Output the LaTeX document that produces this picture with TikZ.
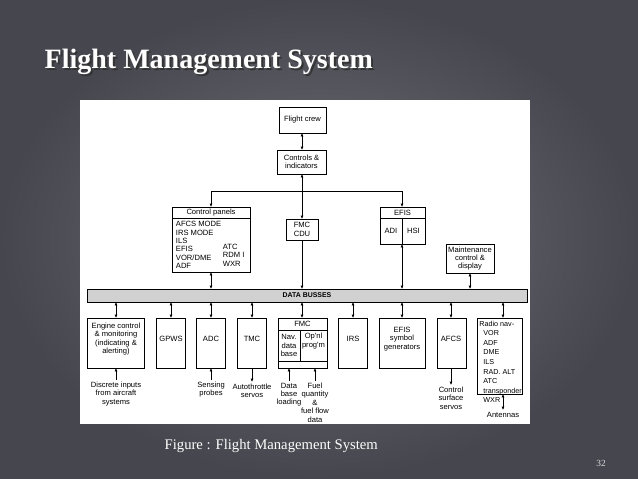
\documentclass[tikz,border=0pt]{standalone}
\usepackage{fontspec}
\setmainfont{Liberation Serif}
\newfontfamily\dsans{Liberation Sans}
\usetikzlibrary{arrows.meta,shadings}
\definecolor{bgin}{RGB}{112,112,122}
\definecolor{bgout}{RGB}{70,70,78}
\begin{document}
\begin{tikzpicture}[x=0.75pt,y=-0.75pt,
  bx/.style={draw,line width=0.6pt,fill=white},
  t/.style={font=\dsans\fontsize{5.7}{6.3}\selectfont,align=center,inner sep=0.5pt},
  ln/.style={line width=0.6pt},
  dbl/.style={line width=0.6pt,{Latex[length=2.5pt,width=2.2pt]}-{Latex[length=2.5pt,width=2.2pt]}},
  one/.style={line width=0.6pt,-{Latex[length=2.5pt,width=2.2pt]}}]
\useasboundingbox (0,0) rectangle (638,478);
\shade[inner color=bgin,outer color=bgout] (0,0) rectangle (638,478);
% title
\node[font=\bfseries\fontsize{21}{24}\selectfont,text=black!80,anchor=west] at (42,64) {Flight Management System};
\node[font=\bfseries\fontsize{21}{24}\selectfont,text=white,anchor=west] (title) at (40,62) {Flight Management System};
% panel
\fill[white] (80,100) rectangle (530,424);
% top boxes
\draw[bx] (279,107) rectangle (326,133); \node[t] (crew) at (302.5,120) {Flight crew};
\draw[bx] (277,150) rectangle (326,174); \node[t] (ci) at (301.5,162) {Controls \&\\indicators};
\coordinate (crewb) at (302,133); \coordinate (cit) at (302,150);
\draw[dbl] (crewb) -- (cit);
% control panels
\draw[bx] (172,207) rectangle (250,272); \draw[ln] (172,218)--(250,218);
\node[t] at (211,212.5) {Control panels};
\node[t,anchor=north west,align=left] at (175,220.5) {AFCS MODE\\IRS MODE\\ILS\\EFIS\\VOR/DME\\ADF};
\node[t,anchor=north west,align=left] at (222,243) {ATC\\RDM I\\WXR};
% FMC CDU
\draw[bx] (286,219) rectangle (318,240); \node[t] (cdu) at (302,229.5) {FMC\\CDU};
% EFIS
\draw[bx] (380,207) rectangle (425,244); \draw[ln] (380,218)--(425,218); \draw[ln] (402,218)--(402,244);
\node[t] at (402.5,212.5) {EFIS}; \node[t] at (391,231) {ADI}; \node[t] at (413.5,231) {HSI};
% maintenance
\draw[bx] (446,244) rectangle (494,273); \node[t] at (470,258.5) {Maintenance\\control \&\\display};
% connections top
\coordinate (cib) at (302,174);
\coordinate (j1) at (211,191); \coordinate (j2) at (402,191);
\draw[ln] (j1)--(j2);
\draw[one] (j1)--(211,207);
\draw[one] (j2)--(402,207);
\draw[dbl] (cib)--(302,219);
% bus
\draw[line width=0.6pt,fill=black!18] (87,289) rectangle (527,302);
\node[t,font=\dsans\bfseries\fontsize{5.2}{6}\selectfont] (bus) at (307,295.5) {DATA BUSSES};
\draw[dbl] (211,272)--(211,289);
\draw[one] (302,240)--(302,289);
\draw[dbl] (402,244)--(402,289);
\draw[dbl] (470,273)--(470,289);
% bottom boxes
\foreach \a/\b/\m/\txt in {87/144/116/{Engine control\\\& monitoring\\(indicating \&\\alerting)},156/185/171/GPWS,196/225/211/ADC,237/266/252/TMC,338/367/353/IRS,379/425/402/{EFIS\\symbol\\generators},437/466/451/AFCS}{
  \draw[bx] (\a,318) rectangle (\b,368);
  \node[t] at (\m,339) {\txt};
  \draw[dbl] (\m,302)--(\m,318);
}
% FMC bottom
\draw[bx] (278,318) rectangle (327,368); \draw[ln] (278,330)--(327,330); \draw[ln] (278,361)--(327,361); \draw[ln] (300,330)--(300,361);
\node[t] at (302.5,324) {FMC};
\node[t] at (289,345.5) {Nav.\\data\\base};
\node[t] at (313.5,341) {Op'nl\\prog'm};
\draw[dbl] (302,302)--(302,318);
% radio
\draw[bx] (477,318) rectangle (522,394);
\node[t,anchor=north west,align=left,font=\dsans\fontsize{5.4}{7.2}\selectfont] at (478.5,320) {Radio nav-\\\ \ VOR\\\ \ ADF\\\ \ DME\\\ \ ILS\\\ \ RAD. ALT\\\ \ ATC\\\ \ transponder\\\ \ WXR};
\draw[dbl] (503,302)--(503,318);
% below
\draw[one] (116,380)--(116,368); \node[t,anchor=north] at (116,381) {Discrete inputs\\from aircraft\\systems};
\draw[one] (211,380)--(211,368); \node[t,anchor=north] at (211,381) {Sensing\\probes};
\draw[one] (252,368)--(252,382); \node[t,anchor=north] at (252,383) {Autothrottle\\servos};
\draw[one] (289,381)--(289,368); \node[t,anchor=north] at (289,382) {Data\\base\\loading};
\draw[one] (315,381)--(315,368); \node[t,anchor=north] at (315,382) {Fuel\\quantity\\\&\\fuel flow\\data};
\draw[one] (451,368)--(451,385); \node[t,anchor=north] at (451,386) {Control\\surface\\servos};
\draw[dbl] (503,394)--(503,410); \node[t,anchor=north] at (503,411) {Antennas};
% caption
\node[text=white,font=\fontsize{11}{13}\selectfont,anchor=west] at (160,446) {Figure : Flight Management System};
\node[text=white!85!black,font=\fontsize{7}{8}\selectfont] at (601,463) {32};
\end{tikzpicture}
\end{document}
